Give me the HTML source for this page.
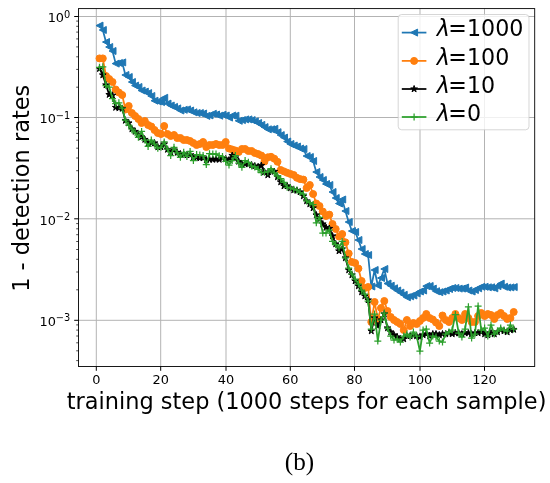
<!DOCTYPE html>
<html><head><meta charset="utf-8"><title>(b)</title>
<style>html,body{margin:0;padding:0;background:#fff}body{width:550px;height:483px;overflow:hidden}svg{display:block}</style></head>
<body>
<svg width="550" height="483" viewBox="0 0 550 483">
<defs><path id="mB" d="M-3.50,0 L3.50,-3.50 L3.50,3.50 Z" fill="#1f77b4" stroke="#1f77b4" stroke-width="1" stroke-linejoin="miter"/><circle id="mO" r="3.50" fill="#ff7f0e" stroke="#ff7f0e" stroke-width="1"/><path id="mK" d="M0.00,-3.50 L0.79,-1.08 L3.33,-1.08 L1.27,0.41 L2.06,2.83 L0.00,1.34 L-2.06,2.83 L-1.27,0.41 L-3.33,-1.08 L-0.79,-1.08Z" fill="#000" stroke="#000" stroke-width="1" stroke-linejoin="miter"/><path id="mG" d="M-3.50,0 H3.50 M0,-3.50 V3.50" fill="none" stroke="#2ca02c" stroke-width="1.25"/><clipPath id="cp"><rect x="78.5" y="8.6" width="456.2" height="357.9"/></clipPath></defs>
<rect width="550" height="483" fill="#fff"/>
<g stroke="#b3b3b3" stroke-width="1"><line x1="96.3" y1="8.6" x2="96.3" y2="366.5"/><line x1="160.7" y1="8.6" x2="160.7" y2="366.5"/><line x1="226.0" y1="8.6" x2="226.0" y2="366.5"/><line x1="290.3" y1="8.6" x2="290.3" y2="366.5"/><line x1="354.5" y1="8.6" x2="354.5" y2="366.5"/><line x1="420.0" y1="8.6" x2="420.0" y2="366.5"/><line x1="484.5" y1="8.6" x2="484.5" y2="366.5"/><line x1="78.5" y1="16.5" x2="534.6" y2="16.5"/><line x1="78.5" y1="117.5" x2="534.6" y2="117.5"/><line x1="78.5" y1="218.8" x2="534.6" y2="218.8"/><line x1="78.5" y1="320.3" x2="534.6" y2="320.3"/></g>
<g stroke="#000" stroke-width="1"><line x1="96.3" y1="366.5" x2="96.3" y2="370.8"/><line x1="160.7" y1="366.5" x2="160.7" y2="370.8"/><line x1="226.0" y1="366.5" x2="226.0" y2="370.8"/><line x1="290.3" y1="366.5" x2="290.3" y2="370.8"/><line x1="354.5" y1="366.5" x2="354.5" y2="370.8"/><line x1="420.0" y1="366.5" x2="420.0" y2="370.8"/><line x1="484.5" y1="366.5" x2="484.5" y2="370.8"/><line x1="74.2" y1="16.5" x2="78.5" y2="16.5"/><line x1="74.2" y1="117.5" x2="78.5" y2="117.5"/><line x1="74.2" y1="218.8" x2="78.5" y2="218.8"/><line x1="74.2" y1="320.3" x2="78.5" y2="320.3"/></g>
<g stroke="#000" stroke-width="0.7"><line x1="76.2" y1="87.2" x2="78.5" y2="87.2"/><line x1="76.2" y1="69.4" x2="78.5" y2="69.4"/><line x1="76.2" y1="56.8" x2="78.5" y2="56.8"/><line x1="76.2" y1="46.9" x2="78.5" y2="46.9"/><line x1="76.2" y1="38.9" x2="78.5" y2="38.9"/><line x1="76.2" y1="32.1" x2="78.5" y2="32.1"/><line x1="76.2" y1="26.3" x2="78.5" y2="26.3"/><line x1="76.2" y1="21.1" x2="78.5" y2="21.1"/><line x1="76.2" y1="188.5" x2="78.5" y2="188.5"/><line x1="76.2" y1="170.7" x2="78.5" y2="170.7"/><line x1="76.2" y1="158.0" x2="78.5" y2="158.0"/><line x1="76.2" y1="148.2" x2="78.5" y2="148.2"/><line x1="76.2" y1="140.2" x2="78.5" y2="140.2"/><line x1="76.2" y1="133.4" x2="78.5" y2="133.4"/><line x1="76.2" y1="127.5" x2="78.5" y2="127.5"/><line x1="76.2" y1="122.4" x2="78.5" y2="122.4"/><line x1="76.2" y1="289.8" x2="78.5" y2="289.8"/><line x1="76.2" y1="272.0" x2="78.5" y2="272.0"/><line x1="76.2" y1="259.3" x2="78.5" y2="259.3"/><line x1="76.2" y1="249.5" x2="78.5" y2="249.5"/><line x1="76.2" y1="241.5" x2="78.5" y2="241.5"/><line x1="76.2" y1="234.7" x2="78.5" y2="234.7"/><line x1="76.2" y1="228.8" x2="78.5" y2="228.8"/><line x1="76.2" y1="223.6" x2="78.5" y2="223.6"/><line x1="76.2" y1="360.6" x2="78.5" y2="360.6"/><line x1="76.2" y1="350.8" x2="78.5" y2="350.8"/><line x1="76.2" y1="342.8" x2="78.5" y2="342.8"/><line x1="76.2" y1="336.0" x2="78.5" y2="336.0"/><line x1="76.2" y1="330.1" x2="78.5" y2="330.1"/><line x1="76.2" y1="324.9" x2="78.5" y2="324.9"/></g>
<g clip-path="url(#cp)">
<polyline points="99.5,25.6 102.8,30.0 106.0,42.0 109.2,47.0 112.5,51.0 115.7,63.6 118.9,63.0 122.2,62.4 125.4,75.0 128.7,77.0 131.9,82.0 135.1,85.6 138.4,87.0 141.6,90.5 144.8,91.6 148.1,93.1 151.3,96.0 154.5,100.7 157.8,101.4 161.0,102.1 164.2,97.8 167.5,103.6 170.7,105.5 174.0,106.9 177.2,108.4 180.4,110.5 183.7,109.8 186.9,109.4 190.1,110.5 193.4,112.3 196.6,113.0 199.8,113.0 203.1,113.5 206.3,115.9 209.5,115.4 212.8,113.8 216.0,114.5 219.2,115.7 222.5,114.7 225.7,115.5 229.0,117.6 232.2,115.5 235.4,115.7 238.7,120.8 241.9,120.1 245.1,119.4 248.4,119.4 251.6,120.1 254.8,121.3 258.1,123.0 261.3,124.9 264.5,127.1 267.8,129.3 271.0,129.3 274.3,128.8 277.5,132.2 280.7,135.1 284.0,137.6 287.2,141.5 290.4,144.0 293.7,145.5 296.9,146.5 300.1,148.5 303.4,149.0 306.6,156.0 309.8,157.0 313.1,161.0 316.3,172.0 319.5,177.0 322.8,180.0 326.0,184.0 329.3,185.0 332.5,192.0 335.7,198.0 339.0,203.5 342.2,199.5 345.4,211.0 348.7,222.0 351.9,231.0 355.1,232.0 358.4,240.0 361.6,249.0 364.8,254.0 368.1,255.0 371.3,286.5 374.6,270.0 377.8,285.5 381.0,278.0 384.3,269.0 387.5,283.5 390.7,285.7 394.0,288.3 397.2,290.5 400.4,292.6 403.7,294.8 406.9,297.3 410.1,296.3 413.4,295.5 416.6,293.4 419.9,291.5 423.1,290.5 426.3,286.1 429.6,286.0 432.8,288.6 436.0,291.2 439.3,292.2 442.5,291.5 445.7,290.5 449.0,289.0 452.2,288.0 455.4,288.0 458.7,288.6 461.9,288.6 465.1,287.5 468.4,290.5 471.6,291.5 474.9,290.0 478.1,288.3 481.3,286.8 484.6,286.8 487.8,287.3 491.0,287.3 494.3,288.3 497.5,286.1 500.7,283.6 504.0,286.8 507.2,287.5 510.4,287.4 513.7,287.1" fill="none" stroke="#1f77b4" stroke-width="1.75" stroke-linejoin="round"/>
<use href="#mB" x="99.5" y="25.6"/><use href="#mB" x="102.8" y="30.0"/><use href="#mB" x="106.0" y="42.0"/><use href="#mB" x="109.2" y="47.0"/><use href="#mB" x="112.5" y="51.0"/><use href="#mB" x="115.7" y="63.6"/><use href="#mB" x="118.9" y="63.0"/><use href="#mB" x="122.2" y="62.4"/><use href="#mB" x="125.4" y="75.0"/><use href="#mB" x="128.7" y="77.0"/><use href="#mB" x="131.9" y="82.0"/><use href="#mB" x="135.1" y="85.6"/><use href="#mB" x="138.4" y="87.0"/><use href="#mB" x="141.6" y="90.5"/><use href="#mB" x="144.8" y="91.6"/><use href="#mB" x="148.1" y="93.1"/><use href="#mB" x="151.3" y="96.0"/><use href="#mB" x="154.5" y="100.7"/><use href="#mB" x="157.8" y="101.4"/><use href="#mB" x="161.0" y="102.1"/><use href="#mB" x="164.2" y="97.8"/><use href="#mB" x="167.5" y="103.6"/><use href="#mB" x="170.7" y="105.5"/><use href="#mB" x="174.0" y="106.9"/><use href="#mB" x="177.2" y="108.4"/><use href="#mB" x="180.4" y="110.5"/><use href="#mB" x="183.7" y="109.8"/><use href="#mB" x="186.9" y="109.4"/><use href="#mB" x="190.1" y="110.5"/><use href="#mB" x="193.4" y="112.3"/><use href="#mB" x="196.6" y="113.0"/><use href="#mB" x="199.8" y="113.0"/><use href="#mB" x="203.1" y="113.5"/><use href="#mB" x="206.3" y="115.9"/><use href="#mB" x="209.5" y="115.4"/><use href="#mB" x="212.8" y="113.8"/><use href="#mB" x="216.0" y="114.5"/><use href="#mB" x="219.2" y="115.7"/><use href="#mB" x="222.5" y="114.7"/><use href="#mB" x="225.7" y="115.5"/><use href="#mB" x="229.0" y="117.6"/><use href="#mB" x="232.2" y="115.5"/><use href="#mB" x="235.4" y="115.7"/><use href="#mB" x="238.7" y="120.8"/><use href="#mB" x="241.9" y="120.1"/><use href="#mB" x="245.1" y="119.4"/><use href="#mB" x="248.4" y="119.4"/><use href="#mB" x="251.6" y="120.1"/><use href="#mB" x="254.8" y="121.3"/><use href="#mB" x="258.1" y="123.0"/><use href="#mB" x="261.3" y="124.9"/><use href="#mB" x="264.5" y="127.1"/><use href="#mB" x="267.8" y="129.3"/><use href="#mB" x="271.0" y="129.3"/><use href="#mB" x="274.3" y="128.8"/><use href="#mB" x="277.5" y="132.2"/><use href="#mB" x="280.7" y="135.1"/><use href="#mB" x="284.0" y="137.6"/><use href="#mB" x="287.2" y="141.5"/><use href="#mB" x="290.4" y="144.0"/><use href="#mB" x="293.7" y="145.5"/><use href="#mB" x="296.9" y="146.5"/><use href="#mB" x="300.1" y="148.5"/><use href="#mB" x="303.4" y="149.0"/><use href="#mB" x="306.6" y="156.0"/><use href="#mB" x="309.8" y="157.0"/><use href="#mB" x="313.1" y="161.0"/><use href="#mB" x="316.3" y="172.0"/><use href="#mB" x="319.5" y="177.0"/><use href="#mB" x="322.8" y="180.0"/><use href="#mB" x="326.0" y="184.0"/><use href="#mB" x="329.3" y="185.0"/><use href="#mB" x="332.5" y="192.0"/><use href="#mB" x="335.7" y="198.0"/><use href="#mB" x="339.0" y="203.5"/><use href="#mB" x="342.2" y="199.5"/><use href="#mB" x="345.4" y="211.0"/><use href="#mB" x="348.7" y="222.0"/><use href="#mB" x="351.9" y="231.0"/><use href="#mB" x="355.1" y="232.0"/><use href="#mB" x="358.4" y="240.0"/><use href="#mB" x="361.6" y="249.0"/><use href="#mB" x="364.8" y="254.0"/><use href="#mB" x="368.1" y="255.0"/><use href="#mB" x="371.3" y="286.5"/><use href="#mB" x="374.6" y="270.0"/><use href="#mB" x="377.8" y="285.5"/><use href="#mB" x="381.0" y="278.0"/><use href="#mB" x="384.3" y="269.0"/><use href="#mB" x="387.5" y="283.5"/><use href="#mB" x="390.7" y="285.7"/><use href="#mB" x="394.0" y="288.3"/><use href="#mB" x="397.2" y="290.5"/><use href="#mB" x="400.4" y="292.6"/><use href="#mB" x="403.7" y="294.8"/><use href="#mB" x="406.9" y="297.3"/><use href="#mB" x="410.1" y="296.3"/><use href="#mB" x="413.4" y="295.5"/><use href="#mB" x="416.6" y="293.4"/><use href="#mB" x="419.9" y="291.5"/><use href="#mB" x="423.1" y="290.5"/><use href="#mB" x="426.3" y="286.1"/><use href="#mB" x="429.6" y="286.0"/><use href="#mB" x="432.8" y="288.6"/><use href="#mB" x="436.0" y="291.2"/><use href="#mB" x="439.3" y="292.2"/><use href="#mB" x="442.5" y="291.5"/><use href="#mB" x="445.7" y="290.5"/><use href="#mB" x="449.0" y="289.0"/><use href="#mB" x="452.2" y="288.0"/><use href="#mB" x="455.4" y="288.0"/><use href="#mB" x="458.7" y="288.6"/><use href="#mB" x="461.9" y="288.6"/><use href="#mB" x="465.1" y="287.5"/><use href="#mB" x="468.4" y="290.5"/><use href="#mB" x="471.6" y="291.5"/><use href="#mB" x="474.9" y="290.0"/><use href="#mB" x="478.1" y="288.3"/><use href="#mB" x="481.3" y="286.8"/><use href="#mB" x="484.6" y="286.8"/><use href="#mB" x="487.8" y="287.3"/><use href="#mB" x="491.0" y="287.3"/><use href="#mB" x="494.3" y="288.3"/><use href="#mB" x="497.5" y="286.1"/><use href="#mB" x="500.7" y="283.6"/><use href="#mB" x="504.0" y="286.8"/><use href="#mB" x="507.2" y="287.5"/><use href="#mB" x="510.4" y="287.4"/><use href="#mB" x="513.7" y="287.1"/>
<polyline points="99.5,58.4 102.8,58.4 106.0,76.0 109.2,79.0 112.5,82.0 115.7,89.5 118.9,92.5 122.2,95.0 125.4,109.5 128.7,106.0 131.9,113.0 135.1,116.0 138.4,119.0 141.6,123.0 144.8,121.0 148.1,125.0 151.3,126.5 154.5,130.0 157.8,133.0 161.0,134.0 164.2,126.0 167.5,134.0 170.7,136.0 174.0,135.0 177.2,138.0 180.4,138.0 183.7,140.0 186.9,140.0 190.1,141.0 193.4,143.0 196.6,145.0 199.8,144.0 203.1,142.0 206.3,147.0 209.5,145.0 212.8,145.0 216.0,144.0 219.2,145.0 222.5,145.0 225.7,142.0 229.0,148.5 232.2,149.5 235.4,150.5 238.7,152.0 241.9,149.0 245.1,149.0 248.4,151.0 251.6,151.0 254.8,153.0 258.1,154.0 261.3,155.5 264.5,161.5 267.8,157.3 271.0,156.8 274.3,158.7 277.5,161.8 280.7,170.0 284.0,171.4 287.2,172.8 290.4,173.9 293.7,175.0 296.9,177.8 300.1,179.1 303.4,179.6 306.6,188.0 309.8,185.0 313.1,194.0 316.3,203.5 319.5,206.0 322.8,211.5 326.0,216.0 329.3,214.6 332.5,224.0 335.7,229.0 339.0,236.5 342.2,234.0 345.4,242.3 348.7,253.5 351.9,262.0 355.1,263.0 358.4,268.5 361.6,281.0 364.8,288.0 368.1,287.0 371.3,322.0 374.6,302.0 377.8,319.0 381.0,308.0 384.3,301.0 387.5,311.0 390.7,317.0 394.0,320.0 397.2,322.0 400.4,324.0 403.7,330.0 406.9,320.0 410.1,326.0 413.4,323.0 416.6,324.0 419.9,321.0 423.1,318.0 426.3,314.0 429.6,318.0 432.8,319.5 436.0,322.5 439.3,326.0 442.5,315.5 445.7,320.0 449.0,322.0 452.2,318.0 455.4,314.0 458.7,318.0 461.9,320.0 465.1,314.0 468.4,318.0 471.6,322.0 474.9,322.0 478.1,316.0 481.3,313.0 484.6,316.0 487.8,314.0 491.0,315.0 494.3,319.0 497.5,315.0 500.7,313.0 504.0,316.0 507.2,319.0 510.4,318.0 513.7,312.0" fill="none" stroke="#ff7f0e" stroke-width="1.75" stroke-linejoin="round"/>
<use href="#mO" x="99.5" y="58.4"/><use href="#mO" x="102.8" y="58.4"/><use href="#mO" x="106.0" y="76.0"/><use href="#mO" x="109.2" y="79.0"/><use href="#mO" x="112.5" y="82.0"/><use href="#mO" x="115.7" y="89.5"/><use href="#mO" x="118.9" y="92.5"/><use href="#mO" x="122.2" y="95.0"/><use href="#mO" x="125.4" y="109.5"/><use href="#mO" x="128.7" y="106.0"/><use href="#mO" x="131.9" y="113.0"/><use href="#mO" x="135.1" y="116.0"/><use href="#mO" x="138.4" y="119.0"/><use href="#mO" x="141.6" y="123.0"/><use href="#mO" x="144.8" y="121.0"/><use href="#mO" x="148.1" y="125.0"/><use href="#mO" x="151.3" y="126.5"/><use href="#mO" x="154.5" y="130.0"/><use href="#mO" x="157.8" y="133.0"/><use href="#mO" x="161.0" y="134.0"/><use href="#mO" x="164.2" y="126.0"/><use href="#mO" x="167.5" y="134.0"/><use href="#mO" x="170.7" y="136.0"/><use href="#mO" x="174.0" y="135.0"/><use href="#mO" x="177.2" y="138.0"/><use href="#mO" x="180.4" y="138.0"/><use href="#mO" x="183.7" y="140.0"/><use href="#mO" x="186.9" y="140.0"/><use href="#mO" x="190.1" y="141.0"/><use href="#mO" x="193.4" y="143.0"/><use href="#mO" x="196.6" y="145.0"/><use href="#mO" x="199.8" y="144.0"/><use href="#mO" x="203.1" y="142.0"/><use href="#mO" x="206.3" y="147.0"/><use href="#mO" x="209.5" y="145.0"/><use href="#mO" x="212.8" y="145.0"/><use href="#mO" x="216.0" y="144.0"/><use href="#mO" x="219.2" y="145.0"/><use href="#mO" x="222.5" y="145.0"/><use href="#mO" x="225.7" y="142.0"/><use href="#mO" x="229.0" y="148.5"/><use href="#mO" x="232.2" y="149.5"/><use href="#mO" x="235.4" y="150.5"/><use href="#mO" x="238.7" y="152.0"/><use href="#mO" x="241.9" y="149.0"/><use href="#mO" x="245.1" y="149.0"/><use href="#mO" x="248.4" y="151.0"/><use href="#mO" x="251.6" y="151.0"/><use href="#mO" x="254.8" y="153.0"/><use href="#mO" x="258.1" y="154.0"/><use href="#mO" x="261.3" y="155.5"/><use href="#mO" x="264.5" y="161.5"/><use href="#mO" x="267.8" y="157.3"/><use href="#mO" x="271.0" y="156.8"/><use href="#mO" x="274.3" y="158.7"/><use href="#mO" x="277.5" y="161.8"/><use href="#mO" x="280.7" y="170.0"/><use href="#mO" x="284.0" y="171.4"/><use href="#mO" x="287.2" y="172.8"/><use href="#mO" x="290.4" y="173.9"/><use href="#mO" x="293.7" y="175.0"/><use href="#mO" x="296.9" y="177.8"/><use href="#mO" x="300.1" y="179.1"/><use href="#mO" x="303.4" y="179.6"/><use href="#mO" x="306.6" y="188.0"/><use href="#mO" x="309.8" y="185.0"/><use href="#mO" x="313.1" y="194.0"/><use href="#mO" x="316.3" y="203.5"/><use href="#mO" x="319.5" y="206.0"/><use href="#mO" x="322.8" y="211.5"/><use href="#mO" x="326.0" y="216.0"/><use href="#mO" x="329.3" y="214.6"/><use href="#mO" x="332.5" y="224.0"/><use href="#mO" x="335.7" y="229.0"/><use href="#mO" x="339.0" y="236.5"/><use href="#mO" x="342.2" y="234.0"/><use href="#mO" x="345.4" y="242.3"/><use href="#mO" x="348.7" y="253.5"/><use href="#mO" x="351.9" y="262.0"/><use href="#mO" x="355.1" y="263.0"/><use href="#mO" x="358.4" y="268.5"/><use href="#mO" x="361.6" y="281.0"/><use href="#mO" x="364.8" y="288.0"/><use href="#mO" x="368.1" y="287.0"/><use href="#mO" x="371.3" y="322.0"/><use href="#mO" x="374.6" y="302.0"/><use href="#mO" x="377.8" y="319.0"/><use href="#mO" x="381.0" y="308.0"/><use href="#mO" x="384.3" y="301.0"/><use href="#mO" x="387.5" y="311.0"/><use href="#mO" x="390.7" y="317.0"/><use href="#mO" x="394.0" y="320.0"/><use href="#mO" x="397.2" y="322.0"/><use href="#mO" x="400.4" y="324.0"/><use href="#mO" x="403.7" y="330.0"/><use href="#mO" x="406.9" y="320.0"/><use href="#mO" x="410.1" y="326.0"/><use href="#mO" x="413.4" y="323.0"/><use href="#mO" x="416.6" y="324.0"/><use href="#mO" x="419.9" y="321.0"/><use href="#mO" x="423.1" y="318.0"/><use href="#mO" x="426.3" y="314.0"/><use href="#mO" x="429.6" y="318.0"/><use href="#mO" x="432.8" y="319.5"/><use href="#mO" x="436.0" y="322.5"/><use href="#mO" x="439.3" y="326.0"/><use href="#mO" x="442.5" y="315.5"/><use href="#mO" x="445.7" y="320.0"/><use href="#mO" x="449.0" y="322.0"/><use href="#mO" x="452.2" y="318.0"/><use href="#mO" x="455.4" y="314.0"/><use href="#mO" x="458.7" y="318.0"/><use href="#mO" x="461.9" y="320.0"/><use href="#mO" x="465.1" y="314.0"/><use href="#mO" x="468.4" y="318.0"/><use href="#mO" x="471.6" y="322.0"/><use href="#mO" x="474.9" y="322.0"/><use href="#mO" x="478.1" y="316.0"/><use href="#mO" x="481.3" y="313.0"/><use href="#mO" x="484.6" y="316.0"/><use href="#mO" x="487.8" y="314.0"/><use href="#mO" x="491.0" y="315.0"/><use href="#mO" x="494.3" y="319.0"/><use href="#mO" x="497.5" y="315.0"/><use href="#mO" x="500.7" y="313.0"/><use href="#mO" x="504.0" y="316.0"/><use href="#mO" x="507.2" y="319.0"/><use href="#mO" x="510.4" y="318.0"/><use href="#mO" x="513.7" y="312.0"/>
<polyline points="99.5,68.7 102.8,75.0 106.0,85.0 109.2,94.6 112.5,95.3 115.7,107.5 118.9,108.0 122.2,108.5 125.4,120.5 128.7,123.0 131.9,129.0 135.1,131.5 138.4,134.5 141.6,137.0 144.8,139.5 148.1,143.0 151.3,143.0 154.5,143.0 157.8,147.0 161.0,147.0 164.2,144.0 167.5,149.5 170.7,152.0 174.0,150.0 177.2,152.5 180.4,154.0 183.7,154.5 186.9,155.0 190.1,155.0 193.4,157.0 196.6,157.5 199.8,158.0 203.1,158.0 206.3,160.0 209.5,159.5 212.8,159.5 216.0,159.3 219.2,159.5 222.5,158.0 225.7,159.0 229.0,160.0 232.2,155.5 235.4,158.0 238.7,161.5 241.9,164.0 245.1,164.0 248.4,164.0 251.6,165.0 254.8,166.0 258.1,166.8 261.3,165.5 264.5,172.0 267.8,175.0 271.0,171.0 274.3,171.5 277.5,177.0 280.7,182.0 284.0,186.0 287.2,186.0 290.4,188.0 293.7,190.0 296.9,190.5 300.1,192.0 303.4,196.0 306.6,201.0 309.8,204.0 313.1,208.0 316.3,215.0 319.5,219.0 322.8,224.0 326.0,227.5 329.3,228.5 332.5,236.0 335.7,244.0 339.0,251.0 342.2,249.0 345.4,258.0 348.7,270.0 351.9,275.0 355.1,281.0 358.4,286.0 361.6,292.0 364.8,296.0 368.1,300.0 371.3,331.0 374.6,318.0 377.8,326.0 381.0,320.0 384.3,314.0 387.5,328.0 390.7,332.0 394.0,335.0 397.2,337.0 400.4,339.0 403.7,339.0 406.9,336.0 410.1,336.0 413.4,335.0 416.6,336.0 419.9,337.0 423.1,335.0 426.3,334.0 429.6,336.0 432.8,334.0 436.0,334.0 439.3,335.0 442.5,334.0 445.7,334.0 449.0,333.0 452.2,334.0 455.4,333.0 458.7,333.0 461.9,334.0 465.1,333.0 468.4,333.0 471.6,334.0 474.9,333.0 478.1,333.0 481.3,332.0 484.6,334.0 487.8,335.0 491.0,333.0 494.3,334.0 497.5,332.0 500.7,330.0 504.0,331.0 507.2,332.0 510.4,330.0 513.7,329.5" fill="none" stroke="#000" stroke-width="1.75" stroke-linejoin="round"/>
<use href="#mK" x="99.5" y="68.7"/><use href="#mK" x="102.8" y="75.0"/><use href="#mK" x="106.0" y="85.0"/><use href="#mK" x="109.2" y="94.6"/><use href="#mK" x="112.5" y="95.3"/><use href="#mK" x="115.7" y="107.5"/><use href="#mK" x="118.9" y="108.0"/><use href="#mK" x="122.2" y="108.5"/><use href="#mK" x="125.4" y="120.5"/><use href="#mK" x="128.7" y="123.0"/><use href="#mK" x="131.9" y="129.0"/><use href="#mK" x="135.1" y="131.5"/><use href="#mK" x="138.4" y="134.5"/><use href="#mK" x="141.6" y="137.0"/><use href="#mK" x="144.8" y="139.5"/><use href="#mK" x="148.1" y="143.0"/><use href="#mK" x="151.3" y="143.0"/><use href="#mK" x="154.5" y="143.0"/><use href="#mK" x="157.8" y="147.0"/><use href="#mK" x="161.0" y="147.0"/><use href="#mK" x="164.2" y="144.0"/><use href="#mK" x="167.5" y="149.5"/><use href="#mK" x="170.7" y="152.0"/><use href="#mK" x="174.0" y="150.0"/><use href="#mK" x="177.2" y="152.5"/><use href="#mK" x="180.4" y="154.0"/><use href="#mK" x="183.7" y="154.5"/><use href="#mK" x="186.9" y="155.0"/><use href="#mK" x="190.1" y="155.0"/><use href="#mK" x="193.4" y="157.0"/><use href="#mK" x="196.6" y="157.5"/><use href="#mK" x="199.8" y="158.0"/><use href="#mK" x="203.1" y="158.0"/><use href="#mK" x="206.3" y="160.0"/><use href="#mK" x="209.5" y="159.5"/><use href="#mK" x="212.8" y="159.5"/><use href="#mK" x="216.0" y="159.3"/><use href="#mK" x="219.2" y="159.5"/><use href="#mK" x="222.5" y="158.0"/><use href="#mK" x="225.7" y="159.0"/><use href="#mK" x="229.0" y="160.0"/><use href="#mK" x="232.2" y="155.5"/><use href="#mK" x="235.4" y="158.0"/><use href="#mK" x="238.7" y="161.5"/><use href="#mK" x="241.9" y="164.0"/><use href="#mK" x="245.1" y="164.0"/><use href="#mK" x="248.4" y="164.0"/><use href="#mK" x="251.6" y="165.0"/><use href="#mK" x="254.8" y="166.0"/><use href="#mK" x="258.1" y="166.8"/><use href="#mK" x="261.3" y="165.5"/><use href="#mK" x="264.5" y="172.0"/><use href="#mK" x="267.8" y="175.0"/><use href="#mK" x="271.0" y="171.0"/><use href="#mK" x="274.3" y="171.5"/><use href="#mK" x="277.5" y="177.0"/><use href="#mK" x="280.7" y="182.0"/><use href="#mK" x="284.0" y="186.0"/><use href="#mK" x="287.2" y="186.0"/><use href="#mK" x="290.4" y="188.0"/><use href="#mK" x="293.7" y="190.0"/><use href="#mK" x="296.9" y="190.5"/><use href="#mK" x="300.1" y="192.0"/><use href="#mK" x="303.4" y="196.0"/><use href="#mK" x="306.6" y="201.0"/><use href="#mK" x="309.8" y="204.0"/><use href="#mK" x="313.1" y="208.0"/><use href="#mK" x="316.3" y="215.0"/><use href="#mK" x="319.5" y="219.0"/><use href="#mK" x="322.8" y="224.0"/><use href="#mK" x="326.0" y="227.5"/><use href="#mK" x="329.3" y="228.5"/><use href="#mK" x="332.5" y="236.0"/><use href="#mK" x="335.7" y="244.0"/><use href="#mK" x="339.0" y="251.0"/><use href="#mK" x="342.2" y="249.0"/><use href="#mK" x="345.4" y="258.0"/><use href="#mK" x="348.7" y="270.0"/><use href="#mK" x="351.9" y="275.0"/><use href="#mK" x="355.1" y="281.0"/><use href="#mK" x="358.4" y="286.0"/><use href="#mK" x="361.6" y="292.0"/><use href="#mK" x="364.8" y="296.0"/><use href="#mK" x="368.1" y="300.0"/><use href="#mK" x="371.3" y="331.0"/><use href="#mK" x="374.6" y="318.0"/><use href="#mK" x="377.8" y="326.0"/><use href="#mK" x="381.0" y="320.0"/><use href="#mK" x="384.3" y="314.0"/><use href="#mK" x="387.5" y="328.0"/><use href="#mK" x="390.7" y="332.0"/><use href="#mK" x="394.0" y="335.0"/><use href="#mK" x="397.2" y="337.0"/><use href="#mK" x="400.4" y="339.0"/><use href="#mK" x="403.7" y="339.0"/><use href="#mK" x="406.9" y="336.0"/><use href="#mK" x="410.1" y="336.0"/><use href="#mK" x="413.4" y="335.0"/><use href="#mK" x="416.6" y="336.0"/><use href="#mK" x="419.9" y="337.0"/><use href="#mK" x="423.1" y="335.0"/><use href="#mK" x="426.3" y="334.0"/><use href="#mK" x="429.6" y="336.0"/><use href="#mK" x="432.8" y="334.0"/><use href="#mK" x="436.0" y="334.0"/><use href="#mK" x="439.3" y="335.0"/><use href="#mK" x="442.5" y="334.0"/><use href="#mK" x="445.7" y="334.0"/><use href="#mK" x="449.0" y="333.0"/><use href="#mK" x="452.2" y="334.0"/><use href="#mK" x="455.4" y="333.0"/><use href="#mK" x="458.7" y="333.0"/><use href="#mK" x="461.9" y="334.0"/><use href="#mK" x="465.1" y="333.0"/><use href="#mK" x="468.4" y="333.0"/><use href="#mK" x="471.6" y="334.0"/><use href="#mK" x="474.9" y="333.0"/><use href="#mK" x="478.1" y="333.0"/><use href="#mK" x="481.3" y="332.0"/><use href="#mK" x="484.6" y="334.0"/><use href="#mK" x="487.8" y="335.0"/><use href="#mK" x="491.0" y="333.0"/><use href="#mK" x="494.3" y="334.0"/><use href="#mK" x="497.5" y="332.0"/><use href="#mK" x="500.7" y="330.0"/><use href="#mK" x="504.0" y="331.0"/><use href="#mK" x="507.2" y="332.0"/><use href="#mK" x="510.4" y="330.0"/><use href="#mK" x="513.7" y="329.5"/>
<polyline points="99.5,67.3 102.8,66.8 106.0,85.5 109.2,87.0 112.5,98.5 115.7,103.7 118.9,102.8 122.2,108.2 125.4,120.0 128.7,125.0 131.9,129.2 135.1,132.8 138.4,137.3 141.6,131.4 144.8,140.0 148.1,146.4 151.3,140.0 154.5,144.1 157.8,148.2 161.0,147.3 164.2,141.9 167.5,149.1 170.7,155.5 174.0,147.3 177.2,152.8 180.4,157.3 183.7,152.3 186.9,156.4 190.1,151.4 193.4,160.5 196.6,154.6 199.8,155.0 203.1,155.5 206.3,164.6 209.5,153.7 212.8,154.1 216.0,153.9 219.2,155.7 222.5,156.5 225.7,161.4 229.0,165.0 232.2,160.5 235.4,155.5 238.7,163.2 241.9,167.3 245.1,160.5 248.4,162.3 251.6,166.0 254.8,166.9 258.1,169.3 261.3,172.5 264.5,172.3 267.8,171.9 271.0,168.7 274.3,172.8 277.5,176.0 280.7,178.7 284.0,182.3 287.2,187.3 290.4,187.8 293.7,189.2 296.9,190.0 300.1,192.5 303.4,194.0 306.6,200.9 309.8,202.7 313.1,204.6 316.3,222.8 319.5,217.3 322.8,233.0 326.0,233.0 329.3,230.0 332.5,241.4 335.7,244.6 339.0,247.8 342.2,241.4 345.4,257.8 348.7,268.0 351.9,274.0 355.1,279.0 358.4,284.0 361.6,290.0 364.8,294.0 368.1,301.0 371.3,329.0 374.6,314.0 377.8,341.0 381.0,320.0 384.3,313.0 387.5,328.0 390.7,336.0 394.0,340.0 397.2,339.0 400.4,342.0 403.7,336.0 406.9,334.0 410.1,337.0 413.4,332.0 416.6,336.0 419.9,351.0 423.1,330.0 426.3,329.0 429.6,343.0 432.8,336.0 436.0,337.0 439.3,341.0 442.5,342.0 445.7,334.0 449.0,332.0 452.2,330.0 455.4,314.5 458.7,333.0 461.9,337.0 465.1,329.0 468.4,306.8 471.6,338.0 474.9,334.0 478.1,306.0 481.3,330.0 484.6,328.0 487.8,336.0 491.0,325.0 494.3,334.0 497.5,331.0 500.7,328.0 504.0,330.0 507.2,331.0 510.4,325.0 513.7,329.0" fill="none" stroke="#2ca02c" stroke-width="1.75" stroke-linejoin="round"/>
<use href="#mG" x="99.5" y="67.3"/><use href="#mG" x="102.8" y="66.8"/><use href="#mG" x="106.0" y="85.5"/><use href="#mG" x="109.2" y="87.0"/><use href="#mG" x="112.5" y="98.5"/><use href="#mG" x="115.7" y="103.7"/><use href="#mG" x="118.9" y="102.8"/><use href="#mG" x="122.2" y="108.2"/><use href="#mG" x="125.4" y="120.0"/><use href="#mG" x="128.7" y="125.0"/><use href="#mG" x="131.9" y="129.2"/><use href="#mG" x="135.1" y="132.8"/><use href="#mG" x="138.4" y="137.3"/><use href="#mG" x="141.6" y="131.4"/><use href="#mG" x="144.8" y="140.0"/><use href="#mG" x="148.1" y="146.4"/><use href="#mG" x="151.3" y="140.0"/><use href="#mG" x="154.5" y="144.1"/><use href="#mG" x="157.8" y="148.2"/><use href="#mG" x="161.0" y="147.3"/><use href="#mG" x="164.2" y="141.9"/><use href="#mG" x="167.5" y="149.1"/><use href="#mG" x="170.7" y="155.5"/><use href="#mG" x="174.0" y="147.3"/><use href="#mG" x="177.2" y="152.8"/><use href="#mG" x="180.4" y="157.3"/><use href="#mG" x="183.7" y="152.3"/><use href="#mG" x="186.9" y="156.4"/><use href="#mG" x="190.1" y="151.4"/><use href="#mG" x="193.4" y="160.5"/><use href="#mG" x="196.6" y="154.6"/><use href="#mG" x="199.8" y="155.0"/><use href="#mG" x="203.1" y="155.5"/><use href="#mG" x="206.3" y="164.6"/><use href="#mG" x="209.5" y="153.7"/><use href="#mG" x="212.8" y="154.1"/><use href="#mG" x="216.0" y="153.9"/><use href="#mG" x="219.2" y="155.7"/><use href="#mG" x="222.5" y="156.5"/><use href="#mG" x="225.7" y="161.4"/><use href="#mG" x="229.0" y="165.0"/><use href="#mG" x="232.2" y="160.5"/><use href="#mG" x="235.4" y="155.5"/><use href="#mG" x="238.7" y="163.2"/><use href="#mG" x="241.9" y="167.3"/><use href="#mG" x="245.1" y="160.5"/><use href="#mG" x="248.4" y="162.3"/><use href="#mG" x="251.6" y="166.0"/><use href="#mG" x="254.8" y="166.9"/><use href="#mG" x="258.1" y="169.3"/><use href="#mG" x="261.3" y="172.5"/><use href="#mG" x="264.5" y="172.3"/><use href="#mG" x="267.8" y="171.9"/><use href="#mG" x="271.0" y="168.7"/><use href="#mG" x="274.3" y="172.8"/><use href="#mG" x="277.5" y="176.0"/><use href="#mG" x="280.7" y="178.7"/><use href="#mG" x="284.0" y="182.3"/><use href="#mG" x="287.2" y="187.3"/><use href="#mG" x="290.4" y="187.8"/><use href="#mG" x="293.7" y="189.2"/><use href="#mG" x="296.9" y="190.0"/><use href="#mG" x="300.1" y="192.5"/><use href="#mG" x="303.4" y="194.0"/><use href="#mG" x="306.6" y="200.9"/><use href="#mG" x="309.8" y="202.7"/><use href="#mG" x="313.1" y="204.6"/><use href="#mG" x="316.3" y="222.8"/><use href="#mG" x="319.5" y="217.3"/><use href="#mG" x="322.8" y="233.0"/><use href="#mG" x="326.0" y="233.0"/><use href="#mG" x="329.3" y="230.0"/><use href="#mG" x="332.5" y="241.4"/><use href="#mG" x="335.7" y="244.6"/><use href="#mG" x="339.0" y="247.8"/><use href="#mG" x="342.2" y="241.4"/><use href="#mG" x="345.4" y="257.8"/><use href="#mG" x="348.7" y="268.0"/><use href="#mG" x="351.9" y="274.0"/><use href="#mG" x="355.1" y="279.0"/><use href="#mG" x="358.4" y="284.0"/><use href="#mG" x="361.6" y="290.0"/><use href="#mG" x="364.8" y="294.0"/><use href="#mG" x="368.1" y="301.0"/><use href="#mG" x="371.3" y="329.0"/><use href="#mG" x="374.6" y="314.0"/><use href="#mG" x="377.8" y="341.0"/><use href="#mG" x="381.0" y="320.0"/><use href="#mG" x="384.3" y="313.0"/><use href="#mG" x="387.5" y="328.0"/><use href="#mG" x="390.7" y="336.0"/><use href="#mG" x="394.0" y="340.0"/><use href="#mG" x="397.2" y="339.0"/><use href="#mG" x="400.4" y="342.0"/><use href="#mG" x="403.7" y="336.0"/><use href="#mG" x="406.9" y="334.0"/><use href="#mG" x="410.1" y="337.0"/><use href="#mG" x="413.4" y="332.0"/><use href="#mG" x="416.6" y="336.0"/><use href="#mG" x="419.9" y="351.0"/><use href="#mG" x="423.1" y="330.0"/><use href="#mG" x="426.3" y="329.0"/><use href="#mG" x="429.6" y="343.0"/><use href="#mG" x="432.8" y="336.0"/><use href="#mG" x="436.0" y="337.0"/><use href="#mG" x="439.3" y="341.0"/><use href="#mG" x="442.5" y="342.0"/><use href="#mG" x="445.7" y="334.0"/><use href="#mG" x="449.0" y="332.0"/><use href="#mG" x="452.2" y="330.0"/><use href="#mG" x="455.4" y="314.5"/><use href="#mG" x="458.7" y="333.0"/><use href="#mG" x="461.9" y="337.0"/><use href="#mG" x="465.1" y="329.0"/><use href="#mG" x="468.4" y="306.8"/><use href="#mG" x="471.6" y="338.0"/><use href="#mG" x="474.9" y="334.0"/><use href="#mG" x="478.1" y="306.0"/><use href="#mG" x="481.3" y="330.0"/><use href="#mG" x="484.6" y="328.0"/><use href="#mG" x="487.8" y="336.0"/><use href="#mG" x="491.0" y="325.0"/><use href="#mG" x="494.3" y="334.0"/><use href="#mG" x="497.5" y="331.0"/><use href="#mG" x="500.7" y="328.0"/><use href="#mG" x="504.0" y="330.0"/><use href="#mG" x="507.2" y="331.0"/><use href="#mG" x="510.4" y="325.0"/><use href="#mG" x="513.7" y="329.0"/>
</g>
<rect x="78.5" y="8.6" width="456.2" height="357.9" fill="none" stroke="#000" stroke-width="0.9"/>
<g font-family="'DejaVu Sans','Liberation Sans',sans-serif" font-size="12.9" fill="#000">
<text x="96.3" y="383.9" text-anchor="middle">0</text>
<text x="160.7" y="383.9" text-anchor="middle">20</text>
<text x="226.0" y="383.9" text-anchor="middle">40</text>
<text x="290.3" y="383.9" text-anchor="middle">60</text>
<text x="354.5" y="383.9" text-anchor="middle">80</text>
<text x="420.0" y="383.9" text-anchor="middle">100</text>
<text x="484.5" y="383.9" text-anchor="middle">120</text>
<text x="70.3" y="22.2" text-anchor="end">10<tspan font-size="9.8" dy="-4.6">0</tspan></text>
<text x="70.3" y="123.2" text-anchor="end">10<tspan font-size="9.8" dy="-4.6">−1</tspan></text>
<text x="70.3" y="224.5" text-anchor="end">10<tspan font-size="9.8" dy="-4.6">−2</tspan></text>
<text x="70.3" y="326.0" text-anchor="end">10<tspan font-size="9.8" dy="-4.6">−3</tspan></text>
</g>
<g font-family="'DejaVu Sans','Liberation Sans',sans-serif" font-size="22.45" fill="#000">
<text x="306.6" y="409.2" text-anchor="middle">training step (1000 steps for each sample)</text>
<text transform="translate(28.7,188.3) rotate(-90)" text-anchor="middle">1 - detection rates</text>
</g>
<rect x="398.2" y="14.5" width="130.8" height="115.3" rx="3.5" ry="3.5" fill="#fff" fill-opacity="0.8" stroke="#ccc" stroke-opacity="0.8" stroke-width="1"/>
<g font-family="'DejaVu Sans','Liberation Sans',sans-serif" font-size="22.2" fill="#000">
<line x1="401.8" y1="32.6" x2="426.4" y2="32.6" stroke="#1f77b4" stroke-width="1.75"/>
<use href="#mB" x="414.1" y="32.6"/>
<text x="436.8" y="36.30"><tspan font-style="oblique">λ</tspan><tspan dx="-1.6">=1000</tspan></text>
<line x1="401.8" y1="60.9" x2="426.4" y2="60.9" stroke="#ff7f0e" stroke-width="1.75"/>
<use href="#mO" x="414.1" y="60.9"/>
<text x="436.8" y="64.55"><tspan font-style="oblique">λ</tspan><tspan dx="-1.6">=100</tspan></text>
<line x1="401.8" y1="89.0" x2="426.4" y2="89.0" stroke="#000" stroke-width="1.75"/>
<use href="#mK" x="414.1" y="89.0"/>
<text x="436.8" y="92.80"><tspan font-style="oblique">λ</tspan><tspan dx="-1.6">=10</tspan></text>
<line x1="401.8" y1="117.0" x2="426.4" y2="117.0" stroke="#2ca02c" stroke-width="1.75"/>
<use href="#mG" x="414.1" y="117.0"/>
<text x="436.8" y="121.10"><tspan font-style="oblique">λ</tspan><tspan dx="-1.6">=0</tspan></text>
</g>
<text x="299.5" y="470.3" text-anchor="middle" font-family="'Liberation Serif','DejaVu Serif',serif" font-size="25.2" fill="#000">(b)</text>
</svg>
</body></html>
